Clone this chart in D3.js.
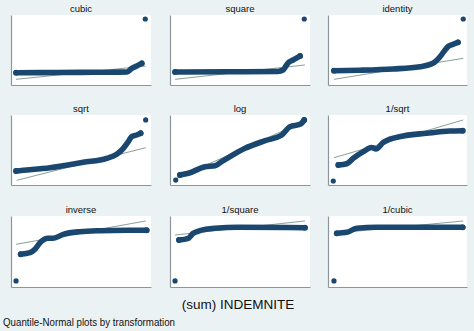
<!DOCTYPE html>
<html>
<head>
<meta charset="utf-8">
<script src="https://cdn.jsdelivr.net/npm/d3@7"></script>
<style>
  html, body { margin: 0; padding: 0; background: #eaf2f3; }
  svg { display: block; }
  text { font-family: "Liberation Sans", Arial, sans-serif; fill: #111; }
</style>
</head>
<body>
<svg id="chart" width="474" height="331"></svg>
<script>
// ---- Data (x = normal quantile position, y = transformed value, both on 0-100 plot units) ----
const titles = ["cubic", "square", "identity", "sqrt", "log", "1/sqrt", "inverse", "1/square", "1/cubic"];

const curveX = [
  [3.6, 20.7, 49.3, 70.7, 82.9, 86.2, 89.8, 93.4],
  [3.6, 42.9, 77.1, 80.7, 84.3, 87.9, 92.9],
  [4.3, 23.0, 46.8, 66.2, 75.5, 80.6, 84.2, 86.3, 89.9, 93.5],
  [3.6, 8.8, 27.9, 51.6, 68.4, 75.5, 80.2, 83.8, 86.2, 89.8, 92.6],
  [7.1, 13.1, 25.0, 32.1, 36.9, 53.6, 67.9, 79.8, 85.7, 92.9, 95.9],
  [7.4, 13.5, 18.2, 25.4, 31.4, 34.5, 39.8, 54.2, 71.0, 87.8, 96.9],
  [6.9, 13.6, 17.1, 20.7, 26.6, 30.2, 37.4, 49.3, 63.6, 82.6, 96.9],
  [6.4, 13.1, 16.6, 21.4, 32.1, 48.8, 96.4],
  [6.3, 13.5, 20.6, 35.0, 96.9]
];
const curveY = [
  [17.6, 17.7, 18.0, 18.3, 18.6, 23.6, 27.1, 31.0],
  [18.6, 18.9, 19.3, 21.4, 31.4, 35.7, 41.4],
  [20.4, 21.1, 22.9, 26.1, 31.0, 40.4, 50.0, 54.7, 58.1, 61.0],
  [20.0, 21.0, 24.7, 32.4, 38.1, 43.9, 52.4, 61.9, 69.0, 71.4, 73.9],
  [14.3, 16.7, 26.1, 27.6, 33.3, 52.4, 63.3, 71.4, 83.3, 86.7, 92.9],
  [28.6, 30.4, 38.1, 47.6, 53.6, 51.4, 61.0, 70.0, 73.9, 77.1, 77.6],
  [46.1, 48.3, 53.1, 62.4, 68.6, 68.6, 74.2, 77.9, 79.3, 79.9, 79.9],
  [66.2, 68.6, 75.6, 79.3, 82.7, 84.1, 83.5],
  [75.6, 77.0, 82.7, 84.1, 84.1]
];
// isolated extreme observation in each panel
const outlierX = [95.9, 95.9, 97.3, 96.2, 4.1, 3.8, 3.6, 3.6, 4.3];
const outlierY = [94.3, 94.3, 94.3, 92.9, 7.1, 5.7, 8.5, 8.5, 8.5];
// normal reference line end points
const refX1 = [3.6, 3.6, 4.3, 4.1, 4.1, 4.3, 3.6, 3.6, 4.3];
const refY1 = [8.1, 8.1, 8.1, 6.7, 9.0, 39.0, 60.1, 73.2, 75.6];
const refX2 = [96.2, 96.4, 97.3, 96.2, 95.9, 97.3, 96.2, 96.4, 97.3];
const refY2 = [27.1, 28.6, 38.1, 53.3, 91.0, 92.9, 93.0, 93.0, 93.0];

const xTitle = "(sum) INDEMNITE";
const caption = "Quantile-Normal plots by transformation";

// ---- Layout ----
const colLeft = [11, 170, 328];
const colWidth = [140, 140, 139];
const rowTop = [15, 115, 216];
const rowHeight = [70, 70, 71];
const navy = "#1a476f";
const refColor = "#7d948a";

const svg = d3.select("#chart");

titles.forEach((t, i) => {
  const c = i % 3, r = Math.floor(i / 3);
  const x0 = colLeft[c], w = colWidth[c], y0 = rowTop[r], h = rowHeight[r];
  const xs = d3.scaleLinear().domain([0, 100]).range([x0, x0 + w]);
  const ys = d3.scaleLinear().domain([0, 100]).range([y0 + h, y0]);
  const g = svg.append("g");

  // plot region
  g.append("rect").attr("x", x0).attr("y", y0).attr("width", w).attr("height", h).attr("fill", "#ffffff");
  // axes (no ticks)
  const ax = d3.axisLeft(ys).tickValues([]).tickSizeOuter(0);
  g.append("g").attr("transform", `translate(${x0},0)`).call(ax)
    .select(".domain").attr("stroke", "#8c9599").attr("stroke-width", 1.2);
  const bx = d3.axisBottom(xs).tickValues([]).tickSizeOuter(0);
  g.append("g").attr("transform", `translate(0,${y0 + h})`).call(bx)
    .select(".domain").attr("stroke", "#8c9599").attr("stroke-width", 1.2);

  // title
  g.append("text").attr("x", x0 + w / 2).attr("y", y0 - 3.5)
    .attr("text-anchor", "middle").attr("font-size", "9.5px").text(t);

  // normal reference line (beneath markers)
  g.append("line")
    .attr("x1", xs(refX1[i])).attr("y1", ys(refY1[i]))
    .attr("x2", xs(refX2[i])).attr("y2", ys(refY2[i]))
    .attr("stroke", refColor).attr("stroke-width", 0.9);

  // dense band of quantile markers
  const pts = curveX[i].map((v, k) => [v, curveY[i][k]]);
  const line = d3.line().x(d => xs(d[0])).y(d => ys(d[1])).curve(d3.curveMonotoneX);
  g.append("path").attr("d", line(pts)).attr("fill", "none")
    .attr("stroke", navy).attr("stroke-width", 5.6)
    .attr("stroke-linecap", "round").attr("stroke-linejoin", "round");
  g.selectAll("circle.end").data([pts[0], pts[pts.length - 1]]).join("circle")
    .attr("cx", d => xs(d[0])).attr("cy", d => ys(d[1])).attr("r", 2.9).attr("fill", navy);

  // extreme observation
  g.append("circle").attr("cx", xs(outlierX[i])).attr("cy", ys(outlierY[i]))
    .attr("r", 2.6).attr("fill", navy);
});

svg.append("text").attr("x", 238).attr("y", 309).attr("text-anchor", "middle")
  .attr("font-size", "13.5px").text(xTitle);
svg.append("text").attr("x", 3).attr("y", 325.5)
  .attr("font-size", "10px").attr("textLength", 172).attr("lengthAdjust", "spacingAndGlyphs").text(caption);
</script>
</body>
</html>
